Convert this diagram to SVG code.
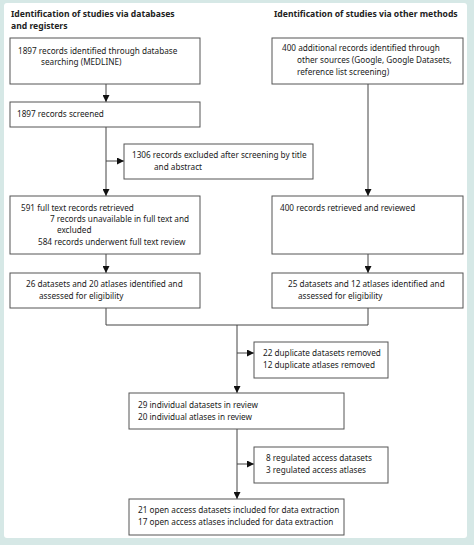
<svg xmlns="http://www.w3.org/2000/svg" width="474" height="545" viewBox="0 0 474 545">
<style>
.box{fill:#fff;stroke:#555;stroke-width:1}
.t{font-family:"Noto Sans","Open Sans",sans-serif;font-size:8.2px;fill:#1a1a1a}
.h{font-family:"Noto Sans","Open Sans",sans-serif;font-size:8.6px;font-weight:bold;fill:#222}
.ln{fill:none;stroke:#444;stroke-width:1}
</style>
<defs>
<marker id="ar" viewBox="0 0 8 8" refX="8" refY="4" markerWidth="7" markerHeight="7" markerUnits="userSpaceOnUse" orient="auto">
<path d="M0,0 L8,4 L0,8 Z" fill="#111"/>
</marker>
</defs>
<rect x="0" y="0" width="474" height="545" fill="#d6e8e6"/>
<rect x="4" y="3" width="463" height="535" rx="3" fill="#fff"/>
<text class="h" x="11" y="17">Identification of studies via databases</text>
<text class="h" x="11" y="29">and registers</text>
<text class="h" x="274" y="17">Identification of studies via other methods</text>
<g id="connectors">
<line class="ln" x1="106" y1="84" x2="106" y2="102" marker-end="url(#ar)"/>
<line class="ln" x1="106" y1="127" x2="106" y2="196" marker-end="url(#ar)"/>
<line class="ln" x1="106" y1="161" x2="124" y2="161" marker-end="url(#ar)"/>
<line class="ln" x1="106" y1="254" x2="106" y2="273" marker-end="url(#ar)"/>
<line class="ln" x1="368" y1="84" x2="368" y2="196" marker-end="url(#ar)"/>
<line class="ln" x1="368" y1="254" x2="368" y2="273" marker-end="url(#ar)"/>
<polyline class="ln" points="106,308 106,325 368,325 368,308"/>
<line class="ln" x1="237" y1="325" x2="237" y2="393" marker-end="url(#ar)"/>
<line class="ln" x1="237" y1="353" x2="254" y2="353" marker-end="url(#ar)"/>
<line class="ln" x1="237" y1="429" x2="237" y2="499" marker-end="url(#ar)"/>
<line class="ln" x1="237" y1="464" x2="254" y2="464" marker-end="url(#ar)"/>
</g>
<g id="n1"><rect class="box" x="10" y="38" width="190" height="46"/>
<text class="t" x="18" y="54">1897 records identified through database</text>
<text class="t" x="41" y="65">searching (MEDLINE)</text></g>
<g id="n2"><rect class="box" x="10" y="102" width="190" height="25"/>
<text class="t" x="17" y="117">1897 records screened</text></g>
<g id="n3"><rect class="box" x="124" y="144" width="189" height="35"/>
<text class="t" x="132" y="158">1306 records excluded after screening by title</text>
<text class="t" x="154" y="170">and abstract</text></g>
<g id="n4"><rect class="box" x="10" y="196" width="190" height="58"/>
<text class="t" x="21" y="211">591 full text records retrieved</text>
<text class="t" x="50" y="222">7 records unavailable in full text and</text>
<text class="t" x="57" y="233">excluded</text>
<text class="t" x="38" y="245">584 records underwent full text review</text></g>
<g id="n5"><rect class="box" x="10" y="273" width="190" height="35"/>
<text class="t" x="26" y="287">26 datasets and 20 atlases identified and</text>
<text class="t" x="39" y="299">assessed for eligibility</text></g>
<g id="r1"><rect class="box" x="272" y="38" width="191" height="46"/>
<text class="t" x="282" y="51">400 additional records identified through</text>
<text class="t" x="297" y="63">other sources (Google, Google Datasets,</text>
<text class="t" x="297" y="75">reference list screening)</text></g>
<g id="r2"><rect class="box" x="272" y="196" width="191" height="58"/>
<text class="t" x="280" y="211">400 records retrieved and reviewed</text></g>
<g id="r3"><rect class="box" x="272" y="273" width="191" height="35"/>
<text class="t" x="288" y="287">25 datasets and 12 atlases identified and</text>
<text class="t" x="298" y="299">assessed for eligibility</text></g>
<g id="d1"><rect class="box" x="254" y="342" width="134" height="36"/>
<text class="t" x="263" y="356">22 duplicate datasets removed</text>
<text class="t" x="263" y="368">12 duplicate atlases removed</text></g>
<g id="m1"><rect class="box" x="129" y="393" width="215" height="36"/>
<text class="t" x="138" y="408">29 individual datasets in review</text>
<text class="t" x="138" y="420">20 individual atlases in review</text></g>
<g id="x1"><rect class="box" x="254" y="447" width="134" height="36"/>
<text class="t" x="266" y="461">8 regulated access datasets</text>
<text class="t" x="266" y="473">3 regulated access atlases</text></g>
<g id="f1"><rect class="box" x="129" y="499" width="215" height="36"/>
<text class="t" x="138" y="513">21 open access datasets included for data extraction</text>
<text class="t" x="138" y="525">17 open access atlases included for data extraction</text></g>
</svg>
